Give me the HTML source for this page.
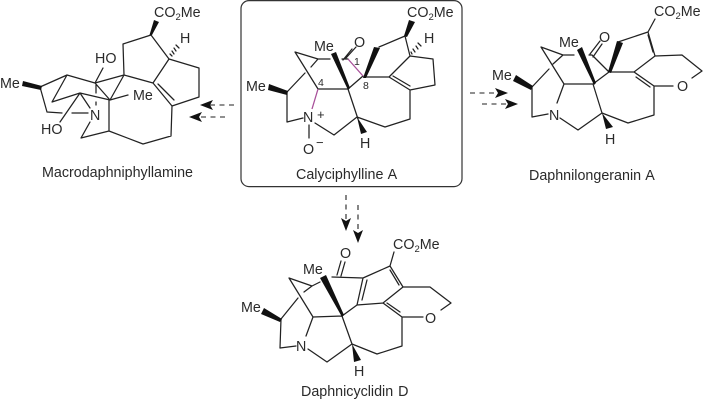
<!DOCTYPE html>
<html><head><meta charset="utf-8"><style>
html,body{margin:0;padding:0;background:#fff}
svg{display:block}
text{font-family:"Liberation Sans",sans-serif;font-size:14.3px;fill:#2a2a2a}
.s{font-size:9.5px}.n{font-size:10.5px}
.l{fill:none;stroke:#222;stroke-width:1.25;stroke-linecap:round;stroke-linejoin:round}
.m{fill:none;stroke:#a8509a;stroke-width:1.3}
.d{fill:none;stroke:#222;stroke-width:1.1;stroke-dasharray:5 4.5}
.w{fill:#111;stroke:none}
</style></head><body>
<svg width="703" height="403" viewBox="0 0 703 403" xmlns="http://www.w3.org/2000/svg">
<rect x="241" y="0.6" width="221" height="186" rx="8" fill="none" stroke="#333" stroke-width="1.2"/>

<!-- Macrodaphniphyllamine -->
<path class="l" d="M151 35L123 44L124 75M151 35L169 59L199 68L199 97L172 106L153 83L169 59M124 75L153 83M158 84L174 100M172 106L171 136L143 144L109 131L109 100M124 75L110 100L128 95M110 100L95 83L124 75M95 83L103 68M96 85V93M96 102V105M95 83L67 75L40 87L47 112L62 113M72 113L88 113M67 75L52 102L80 93L110 100M80 93L90 108M80 93L60 122M90 122L81 138L109 131"/>
<path class="w" d="M149.500 35L154 20L159 22L152 35ZM42 86L23 81L22 86L41 90Z"/>
<path class="l" d="M172 56L170 54M174 54L172 51M176 51L174 48M179 48L176 45" stroke-width="1"/>
<text x="154" y="17">CO<tspan class="s" dy="3">2</tspan><tspan dy="-3">Me</tspan></text>
<text x="180" y="43">H</text>
<text x="95" y="63">HO</text>
<text x="133" y="100">Me</text>
<text x="0" y="88">Me</text>
<text x="90" y="120">N</text>
<text x="41" y="134">HO</text>
<text x="42" y="177">Macrodaphniphyllamine</text>

<!-- Calyciphylline A -->
<path class="l" d="M405 36L379 47M405 36L410 56L433 59L435 85L410 90L389 77L410 56M364 77L389 77M393 76L410 86M410 90L410 119L385 127L357 117L334 135L315 123M287 122L303 118M287 122L287 92L305 73M311 67L318 59L295 52L318 89L348 89M318 59L330 59M342 59L348 59M348 89L363 76M348 89L358 119M309 125V138M346 58L356 47M343 60L352 49"/>
<path class="m" d="M318 89L312 109M348 59L363 76"/>
<path class="w" d="M404 36L409 20L415 22L407 37ZM288 91L269 84L268 90L287 95ZM348 90L331 54L336 52L350 88ZM363 78L374 47L380 48L366 78ZM357 117L361 134L367 132Z"/>
<path class="l" d="M412 54L411 52M415 52L413 49M418 49L416 46M421 46L418 43" stroke-width="1"/>
<text x="407" y="17">CO<tspan class="s" dy="3">2</tspan><tspan dy="-3">Me</tspan></text>
<text x="424" y="43">H</text>
<text x="314" y="51">Me</text>
<text x="354" y="47">O</text>
<text x="246" y="91">Me</text>
<text x="303" y="122">N</text>
<text x="317" y="119" style="font-size:13px">+</text>
<text x="303" y="154">O</text>
<text x="316" y="147" style="font-size:13px">−</text>
<text x="360" y="148">H</text>
<text class="n" x="354" y="65">1</text>
<text class="n" x="363" y="89">8</text>
<text class="n" x="318" y="86">4</text>
<text x="296" y="179">Calyciphylline <tspan dx="1">A</tspan></text>

<!-- Daphnilongeranin A -->
<path class="l" d="M655 19L648 32L618 42M648 32L655 56L682 55L702 71L692 78M648 35L653 52M655 56L634 72L609 72M634 72L654 86L673 86M636 77L650 87M654 86V115L628 123L602 113L578 130L560 118M548 114L532 117V87L549 69M553 64L563 55L541 47L564 84L593 84M563 55L574 55M589 55L592 55L609 72M593 84L609 72M593 84L602 113M564 84L557 103M590 54L600 41M593 57L602 44"/>
<path class="w" d="M608 72L617 41L623 43L611 73ZM594 85L577 50L582 47L596 83ZM533 86L516 75L513 81L531 90ZM602 113L606 129L613 127Z"/>
<text x="654" y="16">CO<tspan class="s" dy="3">2</tspan><tspan dy="-3">Me</tspan></text>
<text x="559" y="47">Me</text>
<text x="599" y="42">O</text>
<text x="492" y="80">Me</text>
<text x="549" y="120">N</text>
<text x="677" y="91">O</text>
<text x="605" y="144">H</text>
<text x="529" y="180">Daphnilongeranin <tspan dx="1">A</tspan></text>

<!-- Daphnicyclidin D -->
<path class="l" d="M394 252L390 266L363 278L357 305L383 303L403 287L390 266M367 280L362 300M390 270L399 285M403 287H430L451 303L441 310M383 303L402 317L423 317M387 303L400 312M402 317V346L377 354L352 344L327 362L308 349M296 346L280 348L281 319L298 298M304 292L312 286L289 278L313 317L342 316M312 286L320 282M332 277L363 278M342 316L357 305M342 316L352 344M313 317L306 336M341 276L345 262M337 275L341 261"/>
<path class="w" d="M342 317L320 278L326 275L344 315ZM282 319L264 308L261 314L280 322ZM352 344L354 362L361 360Z"/>
<text x="393" y="249">CO<tspan class="s" dy="3">2</tspan><tspan dy="-3">Me</tspan></text>
<text x="303" y="274">Me</text>
<text x="340" y="258">O</text>
<text x="241" y="312">Me</text>
<text x="296" y="351">N</text>
<text x="425" y="323">O</text>
<text x="354" y="376">H</text>
<text x="301" y="396">Daphnicyclidin <tspan dx="1">D</tspan></text>

<!-- Arrows -->
<path class="d" d="M234 105H210M225 117H198M470 93H498M482 104H508M346 195V222M358 205V234"/>
<path class="w" d="M200 105L213 100L210 105L213 110ZM189 117L202 112L199 117L202 122ZM508 93L495 88L498 93L495 98ZM518 104L505 99L508 104L505 109ZM346 231L341 218L346 221L351 218ZM358 243L353 230L358 233L363 230Z"/>
</svg>
</body></html>
